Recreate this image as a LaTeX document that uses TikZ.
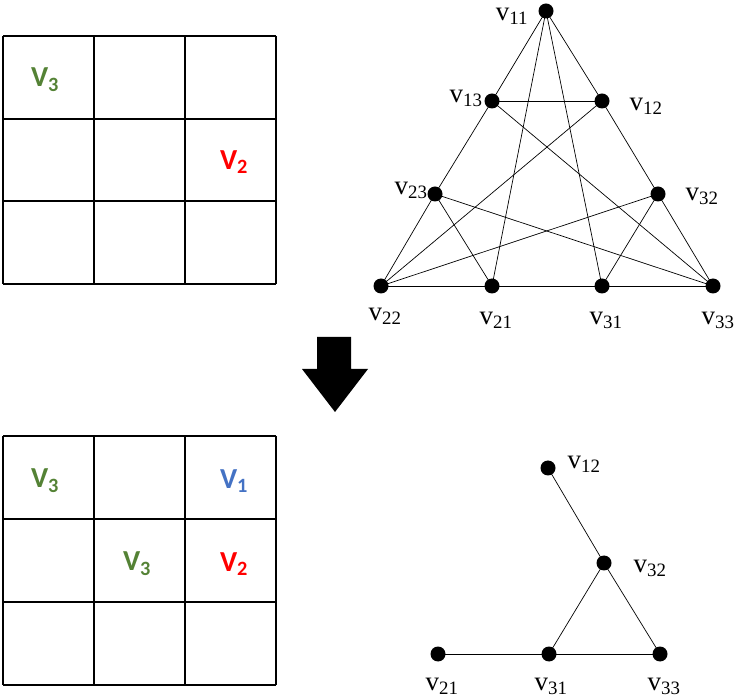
\documentclass[tikz,border=0pt]{standalone}
\usepackage{fontspec}
\setmainfont{Liberation Serif}
\newfontfamily\carlitofont{Carlito}
\definecolor{vgreen}{RGB}{84,130,53}
\definecolor{vred}{RGB}{255,0,0}
\definecolor{vblue}{RGB}{68,114,196}
\begin{document}
\begin{tikzpicture}[x=1pt,y=-1pt,
  dot/.style={circle,fill=black,inner sep=0pt,minimum width=15pt,minimum height=14pt},
  edge/.style={draw,line width=0.7pt},
  vl/.style={font=\fontsize{27}{27}\selectfont},
  cl/.style={font=\carlitofont\bfseries\fontsize{29}{29}\selectfont}]
\useasboundingbox (0,0) rectangle (737,700);
% grids
\foreach \x in {3,94,185,276} \draw[line width=1.4pt] (\x,36)--(\x,284);
\foreach \y in {36,119,201,284} \draw[line width=1.4pt] (3,\y)--(276,\y);
\foreach \x in {3,94,185,276} \draw[line width=1.4pt] (\x,436)--(\x,685);
\foreach \y in {436,519,602,685} \draw[line width=1.4pt] (3,\y)--(276,\y);
\node[cl,text=vgreen] (a) at (45,80) {V\textsubscript{3}};
\node[cl,text=vred] (b) at (234,162) {V\textsubscript{2}};
\node[cl,text=vgreen] (c) at (45,481) {V\textsubscript{3}};
\node[cl,text=vblue] (d) at (234,481) {V\textsubscript{1}};
\node[cl,text=vgreen] (e) at (137,564) {V\textsubscript{3}};
\node[cl,text=vred] (f) at (234,564) {V\textsubscript{2}};
% arrow
\fill (317,337) -- (351,337) -- (351,369) -- (368,369) -- (335,412) -- (302,369) -- (317,369) -- cycle;
% top graph
\foreach \n/\x/\y in {v11/546/11,v13/492/101,v12/602/101,v23/435/194,v32/658/194,v22/381/286,v21/492/286,v31/602/286,v33/713/286}
  \node[dot] (\n) at (\x,\y) {};
\foreach \a/\b in {v11/v13,v11/v12,v11/v21,v11/v31,v13/v12,v13/v23,v13/v33,v12/v32,v12/v22,v23/v22,v23/v21,v23/v33,v32/v22,v32/v31,v32/v33,v22/v21,v21/v31,v31/v33}
  \draw[edge] (\a.center)--(\b.center);
\foreach \n/\x/\y/\i in {l11/512/16/11,l13/466/98/13,l12/646/106/12,l23/411/190/23,l32/702/196/32,l22/385/316/22,l21/496/320/21,l31/606/320/31,l33/718/320/33}
  \node[vl] (\n) at (\x,\y) {v\textsubscript{\i}};
% bottom graph
\foreach \n/\x/\y in {w12/548/468,w32/604/563,w21/438/654,w31/549/654,w33/660/654}
  \node[dot] (\n) at (\x,\y) {};
\foreach \a/\b in {w12/w32,w32/w31,w32/w33,w21/w31,w31/w33}
  \draw[edge] (\a.center)--(\b.center);
\foreach \n/\x/\y/\i in {m12/584/464/12,m32/650/568/32,m21/442/686/21,m31/551/686/31,m33/664/686/33}
  \node[vl] (\n) at (\x,\y) {v\textsubscript{\i}};
\end{tikzpicture}
\end{document}
